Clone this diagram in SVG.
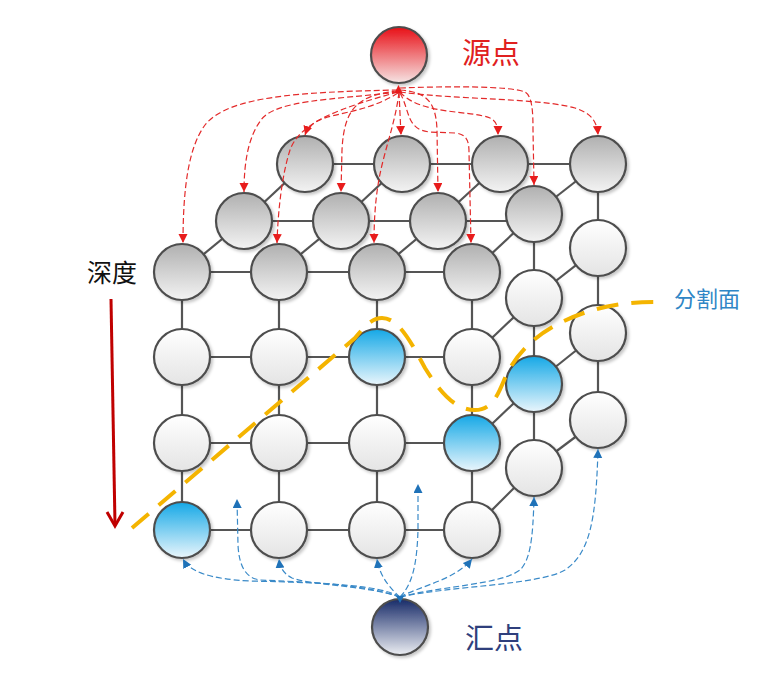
<svg xmlns="http://www.w3.org/2000/svg" width="783" height="694" viewBox="0 0 783 694">
<style>
.node{stroke:#4d4d4d;stroke-width:2.2;filter:url(#sh)}
.gray{fill:url(#gGray)}
.white{fill:url(#gWhite)}
.blue{fill:url(#gBlue)}
.edge{stroke:#555;stroke-width:2.2;fill:none}
.red{stroke:#e32a2a;stroke-width:1.2;stroke-dasharray:6 3;fill:none;marker-end:url(#ar)}
.bl{stroke:#3a8ac8;stroke-width:1.2;stroke-dasharray:6 3;fill:none;marker-end:url(#ab)}
.cut{stroke:#f4b400;stroke-width:4;stroke-dasharray:22 13;fill:none;stroke-linecap:butt}
.cjk{font-family:"Noto Sans CJK SC","Noto Sans CJK JP",sans-serif}
</style>
<defs>
<linearGradient id="gGray" x1="0" y1="0" x2="0" y2="1"><stop offset="0" stop-color="#b0b0b0"/><stop offset="1" stop-color="#f3f3f3"/></linearGradient>
<linearGradient id="gWhite" x1="0" y1="0" x2="0" y2="1"><stop offset="0" stop-color="#ffffff"/><stop offset="1" stop-color="#e4e4e4"/></linearGradient>
<linearGradient id="gBlue" x1="0" y1="0" x2="0" y2="1"><stop offset="0" stop-color="#14a8e6"/><stop offset="1" stop-color="#eaf6fc"/></linearGradient>
<linearGradient id="gRed" x1="0" y1="0" x2="0" y2="1"><stop offset="0" stop-color="#e80f16"/><stop offset="1" stop-color="#f6e4e4"/></linearGradient>
<linearGradient id="gNavy" x1="0" y1="0" x2="0" y2="1"><stop offset="0" stop-color="#172a68"/><stop offset="1" stop-color="#eceef3"/></linearGradient>
<filter id="sh" x="-30%" y="-30%" width="160%" height="160%"><feDropShadow dx="2" dy="2" stdDeviation="1.8" flood-color="#000" flood-opacity="0.22"/></filter>
<marker id="ar" markerUnits="userSpaceOnUse" markerWidth="10" markerHeight="10" refX="9" refY="4.5" orient="auto"><path d="M0,0 L9,4.5 L0,9 z" fill="#e81c1c"/></marker>
<marker id="ab" markerUnits="userSpaceOnUse" markerWidth="10" markerHeight="10" refX="9" refY="4.5" orient="auto"><path d="M0,0 L9,4.5 L0,9 z" fill="#1f72b8"/></marker>
</defs>
<rect width="783" height="694" fill="#ffffff"/>

<g id="edges">
<line class="edge" x1="305" y1="164" x2="598" y2="164"/>
<line class="edge" x1="598" y1="164" x2="598" y2="420"/>
<line class="edge" x1="244" y1="221" x2="438" y2="221"/>
<line class="edge" x1="438" y1="221" x2="520" y2="221"/>
<line class="edge" x1="534" y1="214" x2="534" y2="468"/>
<line class="edge" x1="244" y1="221" x2="305" y2="164"/>
<line class="edge" x1="341" y1="221" x2="402" y2="164"/>
<line class="edge" x1="438" y1="221" x2="500" y2="164"/>
<line class="edge" x1="534" y1="214" x2="598" y2="164"/>
<line class="edge" x1="534" y1="298" x2="598" y2="248"/>
<line class="edge" x1="534" y1="384" x2="598" y2="333"/>
<line class="edge" x1="534" y1="468" x2="598" y2="420"/>
<line class="edge" x1="182" y1="272" x2="244" y2="221"/>
<line class="edge" x1="279" y1="272" x2="341" y2="221"/>
<line class="edge" x1="377" y1="272" x2="438" y2="221"/>
<line class="edge" x1="472" y1="272" x2="534" y2="214"/>
<line class="edge" x1="472" y1="357" x2="534" y2="298"/>
<line class="edge" x1="472" y1="443" x2="534" y2="384"/>
<line class="edge" x1="472" y1="530" x2="534" y2="468"/>
<line class="edge" x1="182" y1="272" x2="472" y2="272"/>
<line class="edge" x1="182" y1="357" x2="472" y2="357"/>
<line class="edge" x1="182" y1="443" x2="472" y2="443"/>
<line class="edge" x1="182" y1="530" x2="472" y2="530"/>
<line class="edge" x1="182" y1="272" x2="182" y2="530"/>
<line class="edge" x1="279" y1="272" x2="279" y2="530"/>
<line class="edge" x1="377" y1="272" x2="377" y2="530"/>
<line class="edge" x1="472" y1="272" x2="472" y2="530"/>
</g>

<g id="back-layer">
<g id="b00"><circle class="node gray" cx="305" cy="164" r="28"/></g>
<g id="b01"><circle class="node gray" cx="402" cy="164" r="28"/></g>
<g id="b02"><circle class="node gray" cx="500" cy="164" r="28"/></g>
<g id="b03"><circle class="node gray" cx="598" cy="164" r="28"/></g>
<g id="b13"><circle class="node white" cx="598" cy="248" r="28"/></g>
<g id="b23"><circle class="node white" cx="598" cy="333" r="28"/></g>
<g id="b33"><circle class="node white" cx="598" cy="420" r="28"/></g>
</g>
<g id="middle-layer">
<g id="m00"><circle class="node gray" cx="244" cy="221" r="28"/></g>
<g id="m01"><circle class="node gray" cx="341" cy="221" r="28"/></g>
<g id="m02"><circle class="node gray" cx="438" cy="221" r="28"/></g>
<g id="m03"><circle class="node gray" cx="534" cy="214" r="28"/></g>
<g id="m13"><circle class="node white" cx="534" cy="298" r="28"/></g>
<g id="m23"><circle class="node blue" cx="534" cy="384" r="28"/></g>
<g id="m33"><circle class="node white" cx="534" cy="468" r="28"/></g>
</g>
<g id="front-layer">
<g id="f00"><circle class="node gray" cx="182" cy="272" r="28"/></g>
<g id="f01"><circle class="node gray" cx="279" cy="272" r="28"/></g>
<g id="f02"><circle class="node gray" cx="377" cy="272" r="28"/></g>
<g id="f03"><circle class="node gray" cx="472" cy="272" r="28"/></g>
<g id="f10"><circle class="node white" cx="182" cy="357" r="28"/></g>
<g id="f11"><circle class="node white" cx="279" cy="357" r="28"/></g>
<g id="f12"><circle class="node blue" cx="377" cy="357" r="28"/></g>
<g id="f13"><circle class="node white" cx="472" cy="357" r="28"/></g>
<g id="f20"><circle class="node white" cx="182" cy="443" r="28"/></g>
<g id="f21"><circle class="node white" cx="279" cy="443" r="28"/></g>
<g id="f22"><circle class="node white" cx="377" cy="443" r="28"/></g>
<g id="f23"><circle class="node blue" cx="472" cy="443" r="28"/></g>
<g id="f30"><circle class="node blue" cx="182" cy="530" r="28"/></g>
<g id="f31"><circle class="node white" cx="279" cy="530" r="28"/></g>
<g id="f32"><circle class="node white" cx="377" cy="530" r="28"/></g>
<g id="f33"><circle class="node white" cx="472" cy="530" r="28"/></g>
</g>

<g id="source"><circle class="node" fill="url(#gRed)" cx="399" cy="55" r="28"/>
<text class="cjk" x="462" y="64" font-size="29" fill="#e02020">源点</text></g>
<g id="sink"><circle class="node" fill="url(#gNavy)" cx="400" cy="627" r="28"/>
<text class="cjk" x="465" y="649" font-size="29" fill="#2f3f7c">汇点</text></g>

<g id="source-arrows">
<path class="red" d="M398,90 C300,92 228,96 205,125 C188,148 183,190 183,243"/>
<path class="red" d="M398,92 C330,100 276,100 261,120 C249,136 244,160 244,192"/>
<path class="red" d="M398,93 C362,116 322,112 311,126 C307,130 306,132 305,135"/>
<path class="red" d="M398,92 C340,108 300,122 290,150 C282,175 278,210 277,243"/>
<path class="red" d="M398,91 C356,95 344,110 342,150 L341,192"/>
<path class="red" d="M399,92 C396,118 388,140 382,165 C376,190 374,215 374,243"/>
<path class="red" d="M399,92 L401,135"/>
<path class="red" d="M400,90 C425,92 436,100 437,130 L438,192"/>
<path class="red" d="M400,93 C410,110 406,130 430,132 L455,133 C466,134 469,140 469,152 L471,243"/>
<path class="red" d="M400,92 C420,115 470,110 490,118 C496,121 498,126 498,135"/>
<path class="red" d="M400,88 C450,86 510,86 525,92 C532,96 533,110 533,130 L534,185"/>
<path class="red" d="M400,92 C460,100 540,98 575,108 C590,113 597,120 598,135"/>
<path d="M394.5,93 L398.5,85 L402.5,93 z" fill="#e81c1c"/>
</g>

<g id="sink-arrows">
<path class="bl" d="M400,597 C380,585 330,583 250,581 C210,579 190,572 183,559"/>
<path class="bl" d="M400,597 C360,583 300,582 260,580 C245,578 239,565 238,545 L237,499"/>
<path class="bl" d="M400,597 C370,586 310,585 292,578 C284,574 280,568 279,559"/>
<path class="bl" d="M400,597 C392,590 380,578 377,559"/>
<path class="bl" d="M400,597 C412,585 417,565 418,530 L418,484"/>
<path class="bl" d="M400,597 C420,586 455,580 472,559"/>
<path class="bl" d="M400,597 C440,586 500,585 520,570 C530,560 533,540 534,497"/>
<path class="bl" d="M400,597 C450,586 540,585 565,570 C590,553 596,520 598,449"/>
<path d="M396,596 L400,603 L404,596 z" fill="#1f72b8"/>
</g>

<g id="cut-surface">
<path class="cut" d="M132,528 L355,338 C365,326 372,318 382,318 C398,318 410,340 425,368 C440,392 455,410 475,410 C492,410 498,395 505,378 C515,355 535,335 560,323 C590,308 620,302 655,302"/>
<text class="cjk" x="674" y="307" font-size="22" fill="#2f86c6">分割面</text>
</g>

<g id="depth">
<line x1="111" y1="299" x2="115" y2="525" stroke="#c00000" stroke-width="3"/>
<polyline points="107,512 115,526 123,512" fill="none" stroke="#c00000" stroke-width="3"/>
<text class="cjk" x="87" y="282" font-size="25" fill="#111">深度</text>
</g>
</svg>
